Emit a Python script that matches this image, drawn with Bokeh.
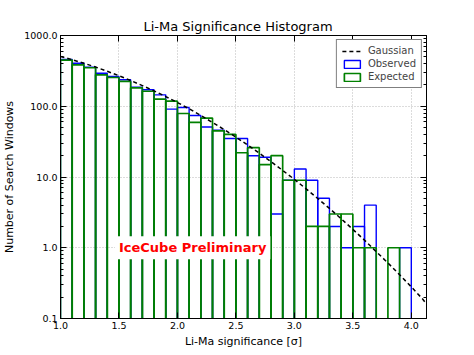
from bokeh.plotting import figure
from bokeh.models import (Range1d, FixedTicker, PrintfTickFormatter, Label, Legend,
                          LegendItem, LinearAxis, LogAxis, ColumnDataSource)
from bokeh.embed import file_html
from bokeh.resources import INLINE

# ---- data ----
bin_left = [1.0, 1.1, 1.2, 1.3, 1.4, 1.5, 1.6, 1.7, 1.8, 1.9,
            2.0, 2.1, 2.2, 2.3, 2.4, 2.5, 2.6, 2.7, 2.8, 2.9,
            3.0, 3.1, 3.2, 3.3, 3.4, 3.5, 3.6, 3.7, 3.8, 3.9]
bin_width = 0.1
observed = [460, 406, 355, 293, 263, 237, 186, 171, 145, 91,
            96, 74, 51, 46, 35, 35, 20, 19, 3, 9,
            13, 9, 5, 2, 1, 2, 4, 0, 0, 1]
expected = [450, 385, 350, 278, 255, 224, 182, 163, 126, 118,
            79, 59, 68, 45, 40, 22, 26, 15, 20, 9,
            9, 2, 2, 3, 3, 1, 1, 0, 1, 0]
gauss_x = [1.0, 1.1, 1.2, 1.3, 1.4, 1.5, 1.6, 1.7, 1.8, 1.9, 2.0, 2.1, 2.2, 2.3,
           2.4, 2.5, 2.6, 2.7, 2.8, 2.9, 3.0, 3.1, 3.2, 3.3, 3.4, 3.5, 3.6, 3.7,
           3.8, 3.9, 4.0, 4.1, 4.13]
gauss_y = [505, 455, 405, 358, 312, 270, 231, 196, 165, 137, 113, 92, 74, 59,
           46.8, 36.6, 28.4, 21.7, 16.5, 12.4, 9.25, 6.8, 4.97, 3.6, 2.57, 1.82,
           1.28, 0.88, 0.61, 0.415, 0.28, 0.186, 0.16]
x_ticks = [1.0, 1.5, 2.0, 2.5, 3.0, 3.5, 4.0]
y_ticks = [0.1, 1, 10, 100, 1000]

FONT = "DejaVu Sans"

def hist_source(vals):
    l, r, t = [], [], []
    for x0, v in zip(bin_left, vals):
        if v > 0:
            l.append(x0)
            r.append(x0 + bin_width)
            t.append(v)
    return ColumnDataSource(dict(left=l, right=r, top=t, bottom=[0.001] * len(t)))

p = figure(width=474, height=355, y_axis_type="log",
           x_range=Range1d(1.0, 4.13), y_range=Range1d(0.1, 1000),
           output_backend="svg", toolbar_location=None,
           min_border_left=60, min_border_right=48,
           min_border_top=35, min_border_bottom=37)
p.background_fill_color = "white"
p.border_fill_color = "white"
p.outline_line_color = "black"
p.outline_line_width = 1

p.title.text = "Li-Ma Significance Histogram"
p.title.align = "left"
p.title.offset = 83
p.title.standoff = 3
p.title.text_font = FONT
p.title.text_font_size = "13px"
p.title.text_font_style = "normal"
p.title.text_color = "black"

xt = FixedTicker(ticks=x_ticks, minor_ticks=[])
minor_y = []
for d in [0.1, 1, 10, 100]:
    for k in range(2, 10):
        minor_y.append(d * k)
yt = FixedTicker(ticks=y_ticks, minor_ticks=minor_y)

for ax in p.xaxis:
    ax.ticker = xt
    ax.formatter = PrintfTickFormatter(format="%.1f")
for ax in p.yaxis:
    ax.ticker = yt
    ax.formatter = PrintfTickFormatter(format="%.1f")

for ax in list(p.xaxis) + list(p.yaxis):
    ax.major_tick_in = 6
    ax.major_tick_out = 0
    ax.minor_tick_in = 3
    ax.minor_tick_out = 0
    ax.major_label_text_font = FONT
    ax.major_label_text_font_size = "9.5px"
    ax.major_label_text_color = "black"
    ax.axis_label_text_font = FONT
    ax.axis_label_text_font_size = "11px"
    ax.axis_label_text_font_style = "normal"
    ax.axis_label_text_color = "black"
    ax.axis_line_color = "black"
    ax.major_label_standoff = 3

p.xaxis.axis_label = "Li-Ma significance [σ]"
p.yaxis.axis_label = "Number of Search Windows"
p.xaxis.axis_label_standoff = 3
p.yaxis.axis_label_standoff = 5

# ticks on the top and right edges, labels hidden
top_ax = LinearAxis(ticker=xt, major_label_text_font_size="1px", major_label_text_alpha=0,
                    major_tick_in=6, major_tick_out=0, minor_tick_in=0, minor_tick_out=0,
                    major_label_standoff=0)
right_ax = LogAxis(ticker=yt, major_label_text_font_size="1px", major_label_text_alpha=0,
                   major_tick_in=6, major_tick_out=0, minor_tick_in=3, minor_tick_out=0,
                   major_label_standoff=0)
p.add_layout(top_ax, "above")
p.add_layout(right_ax, "right")

p.xgrid.ticker = xt
p.ygrid.ticker = yt
for g in (p.xgrid, p.ygrid):
    g.grid_line_color = "#b8b8b8"
    g.grid_line_dash = "1 2"
    g.grid_line_width = 1

obs_src = hist_source(observed)
exp_src = hist_source(expected)

r_obs = p.quad(left="left", right="right", top="top", bottom="bottom", source=obs_src,
               fill_alpha=0, line_color="#0000ff", line_width=1.4)
r_exp = p.quad(left="left", right="right", top="top", bottom="bottom", source=exp_src,
               fill_alpha=0, line_color="#008000", line_width=1.7)
r_gauss = p.line(gauss_x, gauss_y, line_color="black", line_width=1.5, line_dash="4 3")

lab = Label(x=1.5, y=1.0, x_offset=-4, text="IceCube Preliminary", text_color="red",
            text_font=FONT, text_font_style="bold", text_font_size="13px",
            text_baseline="alphabetic",
            background_fill_color="white", background_fill_alpha=1.0, padding=4)
p.add_layout(lab)

legend = Legend(items=[LegendItem(label="Gaussian", renderers=[r_gauss]),
                       LegendItem(label="Observed", renderers=[r_obs]),
                       LegendItem(label="Expected", renderers=[r_exp])],
                location="top_right")
legend.label_text_font = FONT
legend.label_text_font_size = "10px"
legend.glyph_width = 20
legend.glyph_height = 10
legend.spacing = 2
legend.padding = 5
legend.margin = 4
legend.label_standoff = 6
legend.border_line_color = "black"
legend.border_line_width = 1
legend.background_fill_alpha = 1.0
p.add_layout(legend)

open("out.html", "w").write(file_html(p, INLINE))
